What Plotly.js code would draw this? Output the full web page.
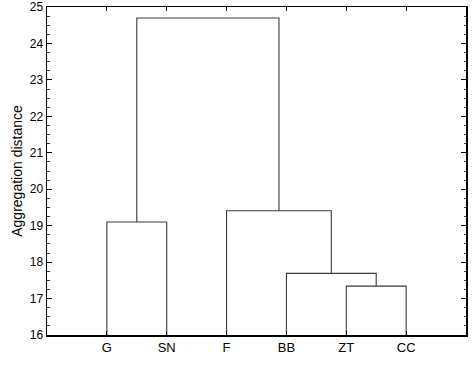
<!DOCTYPE html>
<html>
<head>
<meta charset="utf-8">
<script src="https://cdn.plot.ly/plotly-3.0.1.min.js"></script>
<style>html,body{margin:0;padding:0;background:#fff;}#chart{width:474px;height:366px;}</style>
</head>
<body>
<div id="chart"></div>
<script>
// Leaf labels in dendrogram order
var leaves = ["G", "SN", "F", "BB", "ZT", "CC"];
// Merge steps: [cluster A, cluster B, aggregation distance]; new cluster ids follow leaves (6, 7, ...)
var mergeA = [4, 3, 0, 2, 8];
var mergeB = [5, 6, 1, 7, 9];
var mergeHeight = [17.34, 17.69, 19.10, 19.41, 24.70];
var baseLevel = 16;

var posX = [], posY = [];
for (var i = 0; i < leaves.length; i++) { posX.push(i + 1); posY.push(baseLevel); }

var lx = [], ly = [];
for (var m = 0; m < mergeA.length; m++) {
  var a = mergeA[m], b = mergeB[m], h = mergeHeight[m];
  lx.push(posX[a], posX[a], posX[b], posX[b], null);
  ly.push(posY[a], h, h, posY[b], null);
  posX.push((posX[a] + posX[b]) / 2);
  posY.push(h);
}

var trace = {
  x: lx, y: ly, type: 'scatter', mode: 'lines',
  line: {color: '#3a3a3a', width: 1.1},
  hoverinfo: 'skip', showlegend: false
};

var tickVals = leaves.map(function(_, i){ return i + 1; });

var layout = {
  width: 474, height: 366,
  margin: {l: 47, r: 8, t: 7, b: 31},
  paper_bgcolor: '#fff', plot_bgcolor: '#fff',
  font: {family: 'Liberation Sans, Arial, sans-serif', color: '#000', size: 12},
  xaxis: {
    range: [0, 7], tickvals: tickVals, ticktext: leaves,
    ticks: 'inside', ticklen: 4, tickcolor: '#000', tickwidth: 1,
    showline: true, linecolor: '#000', linewidth: 1.5, mirror: 'ticks',
    showgrid: false, zeroline: false, fixedrange: true,
    tickfont: {size: 13, color: '#000'}
  },
  yaxis: {
    range: [16, 25], dtick: 1, tick0: 16,
    ticks: 'inside', ticklen: 5, tickcolor: '#000', tickwidth: 1,
    minor: {dtick: 0.25, ticks: 'inside', ticklen: 2.5, tickcolor: '#333', showgrid: false},
    showline: true, linecolor: '#000', linewidth: 1.5, mirror: 'ticks',
    showgrid: false, zeroline: false, fixedrange: true,
    ticklabeloverflow: 'allow',
    tickfont: {size: 12, color: '#000'},
    title: {text: 'Aggregation distance', font: {size: 14, color: '#000'}, standoff: 4}
  }
};

Plotly.newPlot('chart', [trace], layout, {displayModeBar: false, staticPlot: true});
</script>
</body>
</html>
